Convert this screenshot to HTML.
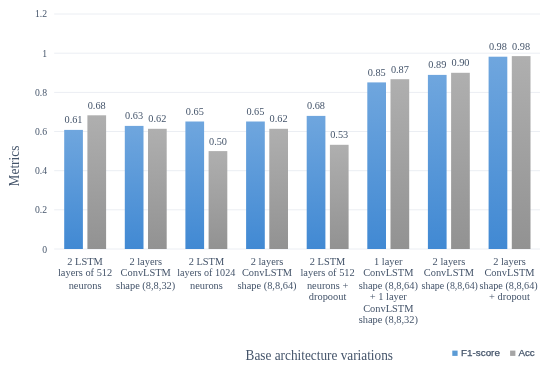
<!DOCTYPE html>
<html><head><meta charset="utf-8"><title>chart</title>
<style>
html,body{margin:0;padding:0;background:#fff;}
svg{display:block;filter:blur(0.35px);}
text{font-family:"Liberation Serif",serif;fill:#44546a;}
.leg{font-family:"Liberation Sans",sans-serif;stroke:#44546a;stroke-width:0.25px;}
</style></head><body>
<svg width="550" height="370" viewBox="0 0 550 370">
<defs>
<linearGradient id="gb" x1="0" y1="0" x2="0" y2="1"><stop offset="0" stop-color="#6fa6de"/><stop offset="1" stop-color="#4189d3"/></linearGradient>
<linearGradient id="gg" x1="0" y1="0" x2="0" y2="1"><stop offset="0" stop-color="#afafaf"/><stop offset="1" stop-color="#929292"/></linearGradient>
</defs>
<rect width="550" height="370" fill="#fff"/>

<line x1="54.2" x2="540" y1="249.0" y2="249.0" stroke="#ebeef3" stroke-width="1"/>
<text x="47" y="253.0" font-size="9.7" text-anchor="end">0</text>
<line x1="54.2" x2="540" y1="209.8" y2="209.8" stroke="#ebeef3" stroke-width="1"/>
<text x="47" y="213.2" font-size="9.7" text-anchor="end">0.2</text>
<line x1="54.2" x2="540" y1="170.7" y2="170.7" stroke="#ebeef3" stroke-width="1"/>
<text x="47" y="174.1" font-size="9.7" text-anchor="end">0.4</text>
<line x1="54.2" x2="540" y1="131.5" y2="131.5" stroke="#ebeef3" stroke-width="1"/>
<text x="47" y="134.9" font-size="9.7" text-anchor="end">0.6</text>
<line x1="54.2" x2="540" y1="92.4" y2="92.4" stroke="#ebeef3" stroke-width="1"/>
<text x="47" y="95.8" font-size="9.7" text-anchor="end">0.8</text>
<line x1="54.2" x2="540" y1="53.2" y2="53.2" stroke="#ebeef3" stroke-width="1"/>
<text x="47" y="56.6" font-size="9.7" text-anchor="end">1</text>
<line x1="54.2" x2="540" y1="14.0" y2="14.0" stroke="#ebeef3" stroke-width="1"/>
<text x="47" y="17.4" font-size="9.7" text-anchor="end">1.2</text>
<rect x="64.2" y="129.9" width="18.7" height="119.1" fill="url(#gb)"/>
<text x="73.5" y="123.4" font-size="10.3" text-anchor="middle">0.61</text>
<rect x="87.4" y="115.3" width="18.7" height="133.7" fill="url(#gg)"/>
<text x="96.7" y="108.8" font-size="10.3" text-anchor="middle">0.68</text>
<text x="85.1" y="265.0" font-size="10.4" text-anchor="middle">2 LSTM</text>
<text x="85.1" y="276.0" font-size="10.4" text-anchor="middle">layers of 512</text>
<text x="85.1" y="289.0" font-size="10.4" text-anchor="middle">neurons</text>
<rect x="124.8" y="125.9" width="18.7" height="123.1" fill="url(#gb)"/>
<text x="134.1" y="119.4" font-size="10.3" text-anchor="middle">0.63</text>
<rect x="148.0" y="128.8" width="18.7" height="120.2" fill="url(#gg)"/>
<text x="157.3" y="122.3" font-size="10.3" text-anchor="middle">0.62</text>
<text x="145.7" y="265.0" font-size="10.4" text-anchor="middle">2 layers</text>
<text x="145.7" y="276.0" font-size="10.4" text-anchor="middle">ConvLSTM</text>
<text x="145.7" y="289.0" font-size="10.4" text-anchor="middle">shape (8,8,32)</text>
<rect x="185.4" y="121.5" width="18.7" height="127.5" fill="url(#gb)"/>
<text x="194.8" y="115.0" font-size="10.3" text-anchor="middle">0.65</text>
<rect x="208.6" y="151.1" width="18.7" height="97.9" fill="url(#gg)"/>
<text x="218.0" y="144.6" font-size="10.3" text-anchor="middle">0.50</text>
<text x="206.4" y="265.0" font-size="10.4" text-anchor="middle">2 LSTM</text>
<text x="177.3" y="276.0" font-size="10.4" textLength="58.0" lengthAdjust="spacingAndGlyphs">layers of 1024</text>
<text x="206.4" y="289.0" font-size="10.4" text-anchor="middle">neurons</text>
<rect x="246.1" y="121.5" width="18.7" height="127.5" fill="url(#gb)"/>
<text x="255.4" y="115.0" font-size="10.3" text-anchor="middle">0.65</text>
<rect x="269.3" y="128.8" width="18.7" height="120.2" fill="url(#gg)"/>
<text x="278.6" y="122.3" font-size="10.3" text-anchor="middle">0.62</text>
<text x="267.0" y="265.0" font-size="10.4" text-anchor="middle">2 layers</text>
<text x="267.0" y="276.0" font-size="10.4" text-anchor="middle">ConvLSTM</text>
<text x="267.0" y="289.0" font-size="10.4" text-anchor="middle">shape (8,8,64)</text>
<rect x="306.7" y="115.9" width="18.7" height="133.1" fill="url(#gb)"/>
<text x="316.0" y="109.4" font-size="10.3" text-anchor="middle">0.68</text>
<rect x="329.9" y="144.8" width="18.7" height="104.2" fill="url(#gg)"/>
<text x="339.2" y="138.3" font-size="10.3" text-anchor="middle">0.53</text>
<text x="327.6" y="265.0" font-size="10.4" text-anchor="middle">2 LSTM</text>
<text x="327.6" y="276.0" font-size="10.4" text-anchor="middle">layers of 512</text>
<text x="327.6" y="289.0" font-size="10.4" text-anchor="middle">neurons +</text>
<text x="327.6" y="300.0" font-size="10.4" text-anchor="middle">dropoout</text>
<rect x="367.3" y="82.4" width="18.7" height="166.6" fill="url(#gb)"/>
<text x="376.7" y="75.9" font-size="10.3" text-anchor="middle">0.85</text>
<rect x="390.5" y="79.2" width="18.7" height="169.8" fill="url(#gg)"/>
<text x="399.9" y="72.7" font-size="10.3" text-anchor="middle">0.87</text>
<text x="388.3" y="265.0" font-size="10.4" text-anchor="middle">1 layer</text>
<text x="388.3" y="276.0" font-size="10.4" text-anchor="middle">ConvLSTM</text>
<text x="388.3" y="289.0" font-size="10.4" text-anchor="middle">shape (8,8,64)</text>
<text x="388.3" y="300.0" font-size="10.4" text-anchor="middle">+ 1 layer</text>
<text x="388.3" y="312.0" font-size="10.4" text-anchor="middle">ConvLSTM</text>
<text x="388.3" y="323.0" font-size="10.4" text-anchor="middle">shape (8,8,32)</text>
<rect x="427.9" y="74.9" width="18.7" height="174.1" fill="url(#gb)"/>
<text x="437.3" y="68.4" font-size="10.3" text-anchor="middle">0.89</text>
<rect x="451.1" y="72.8" width="18.7" height="176.2" fill="url(#gg)"/>
<text x="460.5" y="66.3" font-size="10.3" text-anchor="middle">0.90</text>
<text x="448.9" y="265.0" font-size="10.4" text-anchor="middle">2 layers</text>
<text x="448.9" y="276.0" font-size="10.4" text-anchor="middle">ConvLSTM</text>
<text x="421.6" y="289.0" font-size="10.4" textLength="56.3" lengthAdjust="spacingAndGlyphs">shape (8,8,64)</text>
<rect x="488.6" y="56.7" width="18.7" height="192.3" fill="url(#gb)"/>
<text x="497.9" y="50.2" font-size="10.3" text-anchor="middle">0.98</text>
<rect x="511.8" y="56.1" width="18.7" height="192.9" fill="url(#gg)"/>
<text x="521.1" y="49.6" font-size="10.3" text-anchor="middle">0.98</text>
<text x="509.5" y="265.0" font-size="10.4" text-anchor="middle">2 layers</text>
<text x="509.5" y="276.0" font-size="10.4" text-anchor="middle">ConvLSTM</text>
<text x="479.6" y="289.0" font-size="10.4" textLength="58.1" lengthAdjust="spacingAndGlyphs">shape (8,8,64)</text>
<text x="509.5" y="300.0" font-size="10.4" text-anchor="middle">+ dropout</text>
<text transform="translate(18.5,186.4) rotate(-90)" font-size="14.4" textLength="40.8" lengthAdjust="spacingAndGlyphs">Metrics</text>
<text x="245.6" y="360" font-size="14.4" textLength="147.4" lengthAdjust="spacingAndGlyphs">Base architecture variations</text>
<rect x="452.3" y="350.6" width="5.3" height="5.3" fill="#5b9bd5"/>
<text class="leg" x="461" y="356" font-size="9.4" textLength="38.9" lengthAdjust="spacingAndGlyphs">F1-score</text>
<rect x="510.1" y="350.6" width="5.3" height="5.3" fill="#a5a5a5"/>
<text class="leg" x="518.4" y="356" font-size="9.4" textLength="16.3" lengthAdjust="spacingAndGlyphs">Acc</text>
</svg></body></html>
